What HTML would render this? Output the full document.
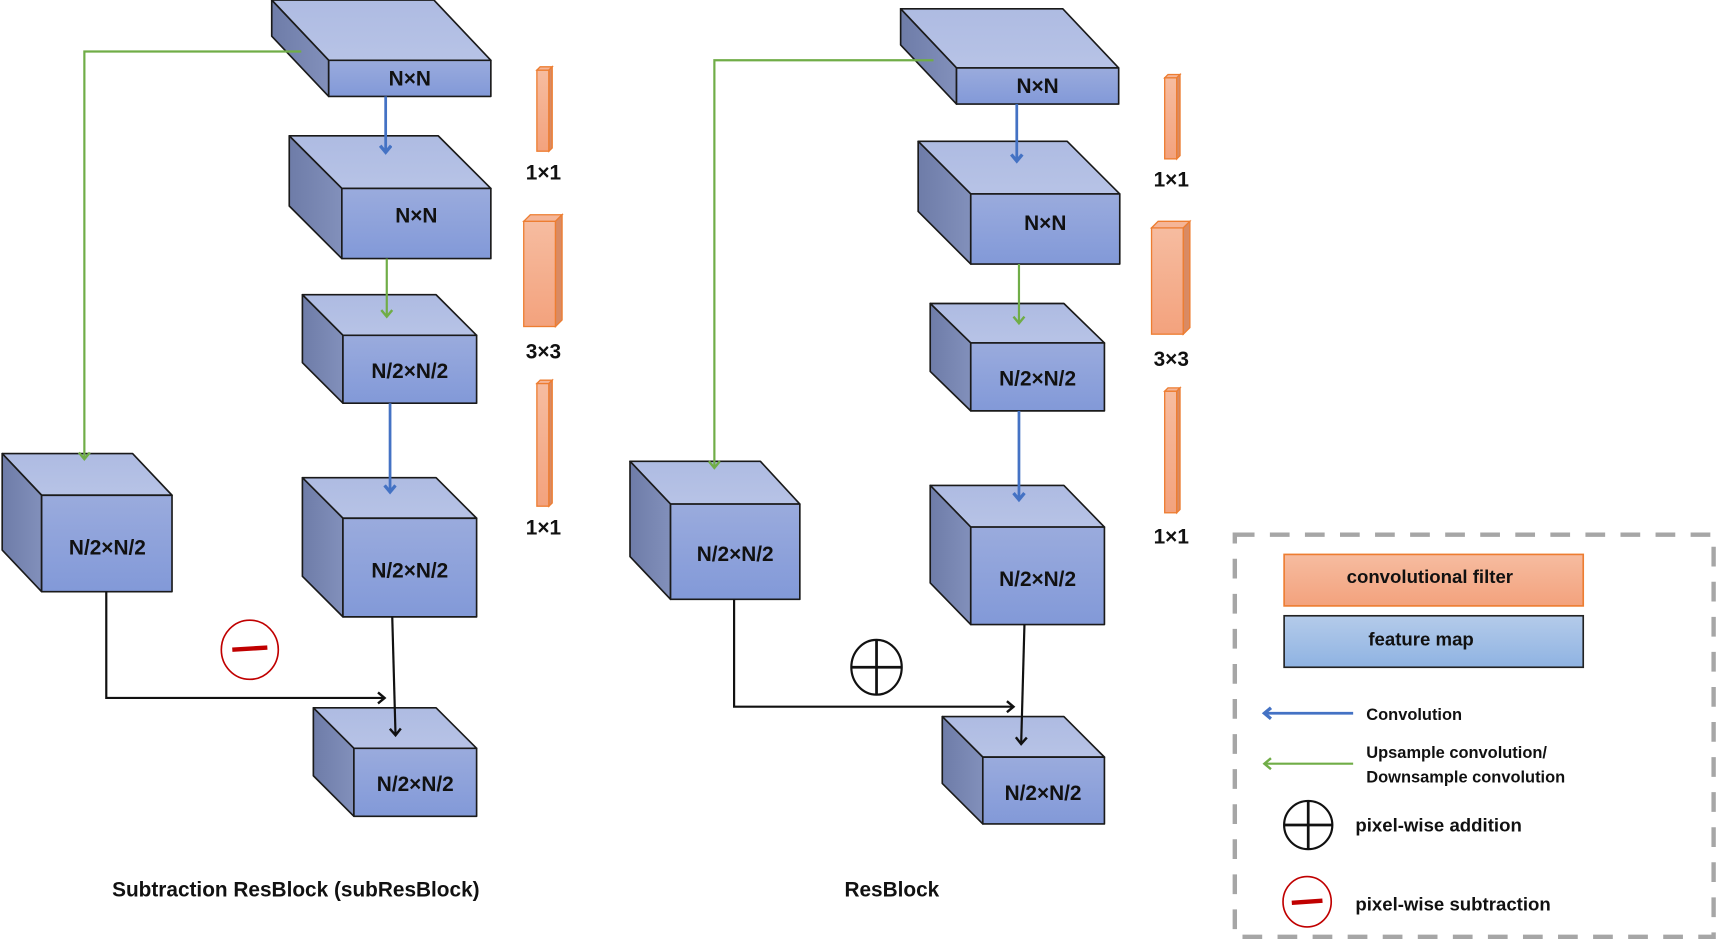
<!DOCTYPE html>
<html><head><meta charset="utf-8"><style>html,body{margin:0;padding:0;background:#fff}svg{display:block}</style></head><body>
<svg width="1718" height="939" viewBox="0 0 1568 857" preserveAspectRatio="none" xmlns="http://www.w3.org/2000/svg" font-family="Liberation Sans, DejaVu Sans, sans-serif">
<defs>
<linearGradient id="fr" x1="0" y1="0" x2="0" y2="1"><stop offset="0" stop-color="#9aabdd"/><stop offset="1" stop-color="#8299d8"/></linearGradient>
<linearGradient id="tp" x1="0" y1="0" x2="0" y2="1"><stop offset="0" stop-color="#aebbe2"/><stop offset="1" stop-color="#b7c3e6"/></linearGradient>
<linearGradient id="sd" x1="0" y1="0" x2="1" y2="0"><stop offset="0" stop-color="#6e7ca8"/><stop offset="1" stop-color="#8290bb"/></linearGradient>
<linearGradient id="or" x1="0" y1="0" x2="0" y2="1"><stop offset="0" stop-color="#f6bca0"/><stop offset="1" stop-color="#f3a27d"/></linearGradient>
<linearGradient id="bl" x1="0" y1="0" x2="0" y2="1"><stop offset="0" stop-color="#b4cbea"/><stop offset="1" stop-color="#8fb3e2"/></linearGradient>
<marker id="ab" markerWidth="12" markerHeight="12" refX="7" refY="6" orient="auto" markerUnits="userSpaceOnUse" viewBox="0 0 12 12"><path d="M1,1 L7,6 L1,11" fill="none" stroke="#4472c4" stroke-width="3"/></marker>
<marker id="ag" markerWidth="12" markerHeight="12" refX="7" refY="6" orient="auto" markerUnits="userSpaceOnUse" viewBox="0 0 12 12"><path d="M1,1 L7,6 L1,11" fill="none" stroke="#70ad47" stroke-width="2.2"/></marker>
<marker id="ak" markerWidth="12" markerHeight="12" refX="7" refY="6" orient="auto" markerUnits="userSpaceOnUse" viewBox="0 0 12 12"><path d="M1,1 L7,6 L1,11" fill="none" stroke="#111" stroke-width="2.2"/></marker>
</defs>
<g stroke="#1a1a1a" stroke-width="1.5" stroke-linejoin="round">
<polygon points="248,0 396,0 448,55 300,55" fill="url(#tp)"/><polygon points="248,0 300,55 300,88 248,33" fill="url(#sd)"/><rect x="300" y="55" width="148" height="33" fill="url(#fr)"/>
<polygon points="264,124 400,124 448,172 312,172" fill="url(#tp)"/><polygon points="264,124 312,172 312,236 264,188" fill="url(#sd)"/><rect x="312" y="172" width="136" height="64" fill="url(#fr)"/>
<polygon points="276,269 398,269 435,306 313,306" fill="url(#tp)"/><polygon points="276,269 313,306 313,368 276,331" fill="url(#sd)"/><rect x="313" y="306" width="122" height="62" fill="url(#fr)"/>
<polygon points="276,436 398,436 435,473 313,473" fill="url(#tp)"/><polygon points="276,436 313,473 313,563 276,526" fill="url(#sd)"/><rect x="313" y="473" width="122" height="90" fill="url(#fr)"/>
<polygon points="2,414 121,414 157,452 38,452" fill="url(#tp)"/><polygon points="2,414 38,452 38,540 2,502" fill="url(#sd)"/><rect x="38" y="452" width="119" height="88" fill="url(#fr)"/>
<polygon points="286,646 398,646 435,683 323,683" fill="url(#tp)"/><polygon points="286,646 323,683 323,745 286,708" fill="url(#sd)"/><rect x="323" y="683" width="112" height="62" fill="url(#fr)"/>
<polygon points="822,8 970,8 1021,62 873,62" fill="url(#tp)"/><polygon points="822,8 873,62 873,95 822,41" fill="url(#sd)"/><rect x="873" y="62" width="148" height="33" fill="url(#fr)"/>
<polygon points="838,129 974,129 1022,177 886,177" fill="url(#tp)"/><polygon points="838,129 886,177 886,241 838,193" fill="url(#sd)"/><rect x="886" y="177" width="136" height="64" fill="url(#fr)"/>
<polygon points="849,277 971,277 1008,313 886,313" fill="url(#tp)"/><polygon points="849,277 886,313 886,375 849,339" fill="url(#sd)"/><rect x="886" y="313" width="122" height="62" fill="url(#fr)"/>
<polygon points="849,443 971,443 1008,481 886,481" fill="url(#tp)"/><polygon points="849,443 886,481 886,570 849,532" fill="url(#sd)"/><rect x="886" y="481" width="122" height="89" fill="url(#fr)"/>
<polygon points="575,421 694,421 730,460 612,460" fill="url(#tp)"/><polygon points="575,421 612,460 612,547 575,508" fill="url(#sd)"/><rect x="612" y="460" width="118" height="87" fill="url(#fr)"/>
<polygon points="860,654 971,654 1008,691 897,691" fill="url(#tp)"/><polygon points="860,654 897,691 897,752 860,715" fill="url(#sd)"/><rect x="897" y="691" width="111" height="61" fill="url(#fr)"/>
</g>
<g stroke="#ed7d31" stroke-width="1.2">
<rect x="490" y="64" width="11" height="74" fill="url(#or)"/><polygon points="490,64 493,61 504,61 501,64" fill="#f5b597"/><polygon points="501,64 504,61 504,135 501,138" fill="#d98a63"/>
<rect x="478" y="202" width="29" height="96" fill="url(#or)"/><polygon points="478,202 484,196 513,196 507,202" fill="#f5b597"/><polygon points="507,202 513,196 513,292 507,298" fill="#d98a63"/>
<rect x="490" y="350" width="11" height="112" fill="url(#or)"/><polygon points="490,350 493,347 504,347 501,350" fill="#f5b597"/><polygon points="501,350 504,347 504,459 501,462" fill="#d98a63"/>
<rect x="1063" y="71" width="11" height="74" fill="url(#or)"/><polygon points="1063,71 1066,68 1077,68 1074,71" fill="#f5b597"/><polygon points="1074,71 1077,68 1077,142 1074,145" fill="#d98a63"/>
<rect x="1051" y="208" width="29" height="97" fill="url(#or)"/><polygon points="1051,208 1057,202 1086,202 1080,208" fill="#f5b597"/><polygon points="1080,208 1086,202 1086,299 1080,305" fill="#d98a63"/>
<rect x="1063" y="357" width="11" height="111" fill="url(#or)"/><polygon points="1063,357 1066,354 1077,354 1074,357" fill="#f5b597"/><polygon points="1074,357 1077,354 1077,465 1074,468" fill="#d98a63"/>
</g>
<g fill="none" stroke-width="2.5">
<line x1="352" y1="88" x2="352" y2="139" stroke="#4472c4" marker-end="url(#ab)"/>
<line x1="353" y1="236" x2="353" y2="289" stroke="#70ad47" stroke-width="2" marker-end="url(#ag)"/>
<line x1="356" y1="368" x2="356" y2="449" stroke="#4472c4" marker-end="url(#ab)"/>
<polyline points="275,47 77,47 77,419" stroke="#70ad47" stroke-width="2" marker-end="url(#ag)"/>
<polyline points="97,540 97,637 351,637" stroke="#111" stroke-width="2" marker-end="url(#ak)"/>
<line x1="358" y1="563" x2="361" y2="671" stroke="#111" stroke-width="2" marker-end="url(#ak)"/>
<line x1="928" y1="95" x2="928" y2="147" stroke="#4472c4" marker-end="url(#ab)"/>
<line x1="930" y1="241" x2="930" y2="295" stroke="#70ad47" stroke-width="2" marker-end="url(#ag)"/>
<line x1="930" y1="375" x2="930" y2="456" stroke="#4472c4" marker-end="url(#ab)"/>
<polyline points="852,55 652,55 652,427" stroke="#70ad47" stroke-width="2" marker-end="url(#ag)"/>
<polyline points="670,547 670,645 925,645" stroke="#111" stroke-width="2" marker-end="url(#ak)"/>
<line x1="935" y1="570" x2="932" y2="679" stroke="#111" stroke-width="2" marker-end="url(#ak)"/>
</g>
<ellipse cx="228" cy="593" rx="26" ry="27" fill="#fff" stroke="#c00000" stroke-width="1.5"/><line x1="212" y1="593" x2="244" y2="591" stroke="#c00000" stroke-width="4"/>
<ellipse cx="800" cy="609" rx="23" ry="25" fill="#fff" stroke="#111" stroke-width="2"/><line x1="800" y1="584" x2="800" y2="634" stroke="#111" stroke-width="2.5"/><line x1="777" y1="609" x2="823" y2="609" stroke="#111" stroke-width="2.5"/>
<g font-size="19" fill="#111" text-anchor="middle" font-weight="bold">
<text x="374" y="78">N×N</text><text x="380" y="203">N×N</text><text x="374" y="345">N/2×N/2</text><text x="374" y="527">N/2×N/2</text><text x="98" y="506">N/2×N/2</text><text x="379" y="722">N/2×N/2</text>
<text x="947" y="85">N×N</text><text x="954" y="210">N×N</text><text x="947" y="352">N/2×N/2</text><text x="947" y="535">N/2×N/2</text><text x="671" y="512">N/2×N/2</text><text x="952" y="730">N/2×N/2</text>
<text x="496" y="164">1×1</text><text x="496" y="327">3×3</text><text x="496" y="488">1×1</text>
<text x="1069" y="170">1×1</text><text x="1069" y="334">3×3</text><text x="1069" y="496">1×1</text>
<text x="270" y="818">Subtraction ResBlock (subResBlock)</text><text x="814" y="818">ResBlock</text>
</g>
<rect x="1127" y="488" width="437" height="367" fill="none" stroke="#a6a6a6" stroke-width="4" stroke-dasharray="18,14"/>
<rect x="1172" y="506" width="273" height="47" fill="url(#or)" stroke="#ed7d31" stroke-width="1.5"/>
<rect x="1172" y="562" width="273" height="47" fill="url(#bl)" stroke="#222" stroke-width="1.5"/>
<g font-weight="bold" fill="#111">
<text x="1305" y="532" font-size="17" text-anchor="middle">convolutional filter</text>
<text x="1297" y="589" font-size="17" text-anchor="middle">feature map</text>
<text x="1247" y="657" font-size="15">Convolution</text>
<text x="1247" y="692" font-size="15">Upsample convolution/</text>
<text x="1247" y="714" font-size="15">Downsample convolution</text>
<text x="1237" y="759" font-size="17">pixel-wise addition</text>
<text x="1237" y="831" font-size="17">pixel-wise subtraction</text>
</g>
<line x1="1235" y1="651" x2="1154" y2="651" stroke="#4472c4" stroke-width="2.5" marker-end="url(#ab)"/>
<line x1="1235" y1="697" x2="1154" y2="697" stroke="#70ad47" stroke-width="2" marker-end="url(#ag)"/>
<circle cx="1194" cy="753" r="22" fill="#fff" stroke="#111" stroke-width="2"/><line x1="1194" y1="731" x2="1194" y2="775" stroke="#111" stroke-width="2.5"/><line x1="1172" y1="753" x2="1216" y2="753" stroke="#111" stroke-width="2.5"/>
<ellipse cx="1193" cy="823" rx="22" ry="23" fill="#fff" stroke="#c00000" stroke-width="1.5"/><line x1="1179" y1="824" x2="1207" y2="822" stroke="#c00000" stroke-width="4"/>
</svg>
</body></html>
